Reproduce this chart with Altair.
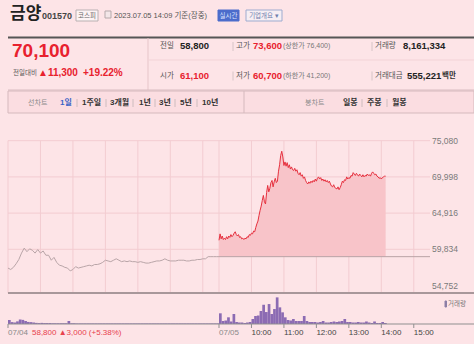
import altair as alt
import pandas as pd

# ---------------- data ----------------
prev_close = 58800
y_ticks = [75080, 69998, 64916, 59834, 54752]
y_tick_labels = ["75,080", "69,998", "64,916", "59,834", "54,752"]
hour_ticks = [450, 510, 570, 630, 690, 750]
hour_labels = ["10:00", "11:00", "12:00", "13:00", "14:00", "15:00"]
grid_minutes = [0, 60, 120, 180, 240, 300, 360, 390, 450, 510, 570, 630, 690, 750]

# 07/04 price every 5 minutes from 09:00
day1_prices = [
    57200, 57000, 57300, 57800, 58400, 59300, 60000, 59500, 59900, 59700,
    59300, 59800, 59300, 59600, 59000, 59000, 58300, 58700, 58000, 57600,
    57500, 57300, 57200, 56800, 57000, 57400, 57200, 57300, 57400, 57500,
    57600, 57500, 57700, 57700, 57800, 58000, 58300, 58200, 58100, 58300,
    58500, 58300, 58100, 58200, 58100, 58200, 58100, 58100, 58000, 58100,
    58000, 57900, 57900, 58000, 58100, 58200, 58200, 58300, 58500, 58300,
    58200, 58200, 58200, 58300, 58300, 58300, 58200, 58200, 58300, 58300,
    58400, 58400, 58500, 58500, 58800, 58800, 58800, 58800, 58800,
]
# 07/05 price every 2 minutes from 09:00
day2_prices = [
    61100, 62000, 61300, 61700, 61200, 61400, 61200, 61600, 61300, 61700,
    61500, 61900, 61600, 61800, 62100, 62300, 61900, 61700, 61900, 61500,
    61600, 61300, 61400, 61200, 61400, 61300, 61600, 61500, 61900, 61800,
    62100, 62000, 62400, 62300, 62900, 63400, 63800, 64600, 65300, 65900,
    66700, 67400, 66500, 66200, 67800, 68800, 67900, 68400, 69200, 69500,
    68600, 69300, 69800, 69200, 69400, 70800, 71700, 73000, 73600, 72800,
    71600, 72100, 71500, 72000, 71300, 71700, 71100, 71400, 71000, 70900,
    71200, 70800, 71000, 70500, 70300, 70600, 70100, 70300, 69800, 70000,
    69500, 69200, 69000, 69300, 69100, 69400, 69200, 69500, 69300, 69700,
    69400, 69800, 70000, 69700, 69900, 69500, 69700, 69400, 69600, 69300,
    69500, 69200, 69400, 69000, 68700, 68600, 68900, 68500, 68400, 68300,
    68600, 68200, 68500, 68900, 69400, 69200, 69600, 69500, 70000, 69700,
    69900, 69800, 70200, 70100, 70600, 70400, 70200, 70500, 70300, 70100,
    70400, 70200, 70000, 70300, 70000, 70200, 70100, 70400, 70200, 70300,
    70100, 70500, 70700, 70500, 70300, 70400, 70100, 70000, 69800, 69900,
    69700, 69900, 70000, 70100, 70100,
]
# volume (thousand shares) per 5 minutes
day1_vol = [
    110, 50, 40, 70, 120, 110, 80, 55, 50, 40,
    30, 25, 30, 25, 25, 25, 20, 20, 20, 20,
    20, 20, 80, 20, 20, 15, 15, 15, 15, 15,
    15, 15, 15, 15, 15, 15, 15, 15, 15, 15,
    15, 15, 15, 15, 15, 15, 15, 15, 15, 15,
    15, 15, 15, 15, 15, 15, 15, 15, 15, 15,
    15, 15, 15, 15, 15, 15, 15, 15, 15, 15,
    15, 15, 15, 15, 15, 15, 15, 15,
]
day2_vol = [
    285, 80, 93, 178, 67, 266, 53, 40, 40, 27,
    40, 53, 133, 213, 226, 346, 513, 319, 532, 266,
    399, 710, 444, 311, 178, 106, 93, 133, 80, 80,
    80, 213, 80, 53, 53, 53, 40, 53, 80, 40,
    40, 53, 67, 53, 67, 80, 133, 53, 53, 40,
    40, 53, 40, 40, 67, 40, 27, 67, 27, 27,
    53, 27,
]

# ---------------- styling ----------------
BG = "#fde4e7"
GRID = "#f3ccd1"
RED = "#e8212e"
FONT = "Liberation Sans, Noto Sans CJK KR, sans-serif"

XS = alt.Scale(domain=[0, 780], range=[8, 430], nice=False, zero=False)
YS = alt.Scale(domain=[53700, 75080], range=[293, 140.7], nice=False, zero=False)
VS = alt.Scale(domain=[0, 720], range=[324, 297], nice=False, zero=True)

ONE = alt.Data(values=[{"k": 0}])


def T(s, x, y, size=8, color="#333", weight="normal", align="left", font=FONT):
    return alt.Chart(ONE).mark_text(
        text=s, fontSize=size, color=color, fontWeight=weight, align=align,
        baseline="middle", font=font,
    ).encode(x=alt.value(x), y=alt.value(y))


def R(x1, y1, x2, y2, color, w=1):
    return alt.Chart(ONE).mark_rule(color=color, strokeWidth=w).encode(
        x=alt.value(x1), x2=alt.value(x2), y=alt.value(y1), y2=alt.value(y2))


def BOX(x1, y1, x2, y2, fill, stroke):
    return alt.Chart(ONE).mark_rect(fill=fill, stroke=stroke, strokeWidth=1).encode(
        x=alt.value(x1), x2=alt.value(x2), y=alt.value(y1), y2=alt.value(y2))


# ---------------- frames ----------------
df1 = pd.DataFrame({"m": [5 * i for i in range(len(day1_prices))], "price": day1_prices})
df2 = pd.DataFrame({"m": [390 + 2 * i for i in range(len(day2_prices))], "price": day2_prices})
df2["base"] = prev_close
dv1 = pd.DataFrame({"m": [5 * i for i in range(len(day1_vol))], "v": day1_vol})
dv2 = pd.DataFrame({"m": [390 + 5 * i for i in range(len(day2_vol))], "v": day2_vol})
dv = pd.concat([dv1, dv2])
dv["m2"] = dv["m"] + 5
dv["z"] = 0
dgrid = pd.DataFrame({"m": grid_minutes})
dh = pd.DataFrame({"v": y_ticks[:4]})
dlab = pd.DataFrame({"v": y_ticks, "lab": y_tick_labels})
dticks = pd.DataFrame({"m": [0, 390] + hour_ticks})
dtl = pd.DataFrame({"m": [0, 390] + hour_ticks,
                    "lab": ["07/04", "07/05"] + hour_labels,
                    "c": ["#8a8a8a", "#8a8a8a"] + ["#444444"] * len(hour_labels)})
dprev = pd.DataFrame({"m": [390], "m2": [780], "v": [prev_close]})

X = lambda f="m": alt.X(f"{f}:Q", scale=XS, axis=None)
Y = lambda f="price": alt.Y(f"{f}:Q", scale=YS, axis=None)

layers = []
# grid
layers.append(alt.Chart(dh).mark_rule(color=GRID, strokeWidth=1).encode(
    y=Y("v"), x=alt.value(8), x2=alt.value(430)))
layers.append(alt.Chart(dgrid).mark_rule(color=GRID, strokeWidth=1).encode(
    x=X(), y=alt.value(140.7), y2=alt.value(293)))
# area + lines
layers.append(alt.Chart(df2).mark_area(color="#f8c4c9", opacity=1).encode(
    x=X(), y=Y(), y2="base:Q"))
layers.append(alt.Chart(dprev).mark_rule(color="#b9a3a7", strokeWidth=1).encode(
    x=X(), x2="m2:Q", y=Y("v")))
layers.append(alt.Chart(df1).mark_line(color="#b9a5a8", strokeWidth=1).encode(x=X(), y=Y()))
layers.append(alt.Chart(df2).mark_line(color="#e6303e", strokeWidth=1).encode(x=X(), y=Y()))
layers.append(alt.Chart(dlab).mark_text(align="left", baseline="middle", fontSize=8.5,
                                        color="#7a7a7a", font=FONT).encode(
    y=Y("v"), x=alt.value(432), text="lab:N"))
layers.append(R(8, 293, 474, 293, "#a8979a", 2))
# volume
layers.append(alt.Chart(dv).mark_rect(color="#8c6bb3").encode(
    x=X(), x2="m2:Q", y=alt.Y("v:Q", scale=VS, axis=None), y2="z:Q"))
layers.append(R(8, 324, 474, 324, "#8f8f8f", 1))
layers.append(alt.Chart(dticks).mark_rule(color="#8f8f8f", strokeWidth=1).encode(
    x=X(), y=alt.value(324), y2=alt.value(328)))
layers.append(alt.Chart(dtl).mark_text(align="left", baseline="middle", fontSize=8,
                                       dx=0, font=FONT).encode(
    x=X(), y=alt.value(333), text="lab:N", color=alt.Color("c:N", scale=None)))
layers.append(T("58,800 \u25b23,000 (+5.38%)", 32, 333, 8, "#e8414d"))
layers.append(BOX(445, 301, 446.5, 307, "#8d7fa6", "#8d7fa6"))
layers.append(T("거래량", 448, 304, 6.5, "#777"))

# header
layers.append(T("금양", 10, 14, 17, "#222", "bold"))
layers.append(T("001570", 42, 16, 9, "#444", "bold"))
layers.append(BOX(76, 10, 98, 21, "#fdf3f4", "#b9b0b2"))
layers.append(T("코스피", 87, 15.5, 6.5, "#666", align="center"))
layers.append(BOX(105, 11, 111, 18, "#f3e6e8", "#b5a9ab"))
layers.append(T("2023.07.05 14:09 기준(장중)", 114, 15.5, 7.5, "#555"))
layers.append(BOX(218, 10, 239, 21, "#4c6ccb", "#4c6ccb"))
layers.append(T("실시간", 228.5, 15.5, 6.5, "#dfe6ff", align="center"))
layers.append(BOX(246, 10, 282, 21, "#f6eef3", "#9eabcf"))
layers.append(T("기업개요 ▾", 264, 15.5, 6.5, "#6f7fae", align="center"))
layers.append(R(8, 37.5, 474, 37.5, "#555555", 2))

# info panel
layers.append(R(148, 38, 148, 90, "#e6c5c9", 1))
layers.append(R(148, 60, 474, 60, "#f3d3d7", 1))
layers.append(R(8, 90, 474, 90, "#d9bcc0", 1))
layers.append(T("70,100", 12, 51, 19, RED, "bold"))
layers.append(T("전일대비", 13, 72.5, 6.5, "#555"))
layers.append(T("\u25b211,300", 38, 72.5, 10, RED, "bold"))
layers.append(T("+19.22%", 83, 72.5, 10, RED, "bold"))
for (yy, a_lab, a_val, a_col, b_lab, b_val, b_note, c_lab, c_val, c_x) in [
    (46, "전일", "58,800", "#222", "고가", "73,600", "(상한가 76,400)", "거래량", "8,161,334", 403),
    (75.5, "시가", "61,100", RED, "저가", "60,700", "(하한가 41,200)", "거래대금", "555,221", 407),
]:
    layers.append(T(a_lab, 160, yy, 7.5, "#555"))
    layers.append(T(a_val, 180, yy, 9.5, a_col, "bold"))
    layers.append(R(233, yy - 4, 233, yy + 5, "#d6c4c6", 1))
    layers.append(T(b_lab, 236, yy, 7.5, "#555"))
    layers.append(T(b_val, 253, yy, 9.5, RED, "bold"))
    layers.append(T(b_note, 283, yy, 7, "#777"))
    layers.append(R(372, yy - 4, 372, yy + 5, "#d6c4c6", 1))
    layers.append(T(c_lab, 375, yy, 7.5, "#555"))
    layers.append(T(c_val, c_x, yy, 9.5, "#222", "bold"))
layers.append(T("백만", 442, 75.5, 7.5, "#333", "bold"))

# tabs
layers.append(BOX(8, 91, 474, 113, "#fbdde1", "#d5b9bd"))
layers.append(R(244, 91, 244, 113, "#d5b9bd", 1))
layers.append(T("선차트", 28, 103, 7, "#8a8a8a"))
layers.append(T("1일", 60, 103, 8, "#3a62c6", "bold"))
for xx, s in [(82, "1주일"), (110, "3개월"), (139, "1년"), (159, "3년"), (180, "5년"), (202, "10년")]:
    layers.append(T(s, xx, 103, 8, "#333", "bold"))
for xx in [77, 106, 133, 155, 175, 197, 362, 387]:
    layers.append(R(xx, 99, xx, 107, "#cdbcbe", 1))
layers.append(T("봉차트", 305, 103, 7, "#8a8a8a"))
for xx, s in [(343, "일봉"), (367, "주봉"), (392, "월봉")]:
    layers.append(T(s, xx, 103, 8, "#333", "bold"))

chart = alt.layer(*layers).resolve_scale(x="independent", y="independent").properties(
    width=474, height=344, padding=0, background=BG,
    autosize=alt.AutoSizeParams(type="none"),
).configure_view(strokeWidth=0)

chart.save("out.html", embed_options={"renderer": "svg", "actions": False})
